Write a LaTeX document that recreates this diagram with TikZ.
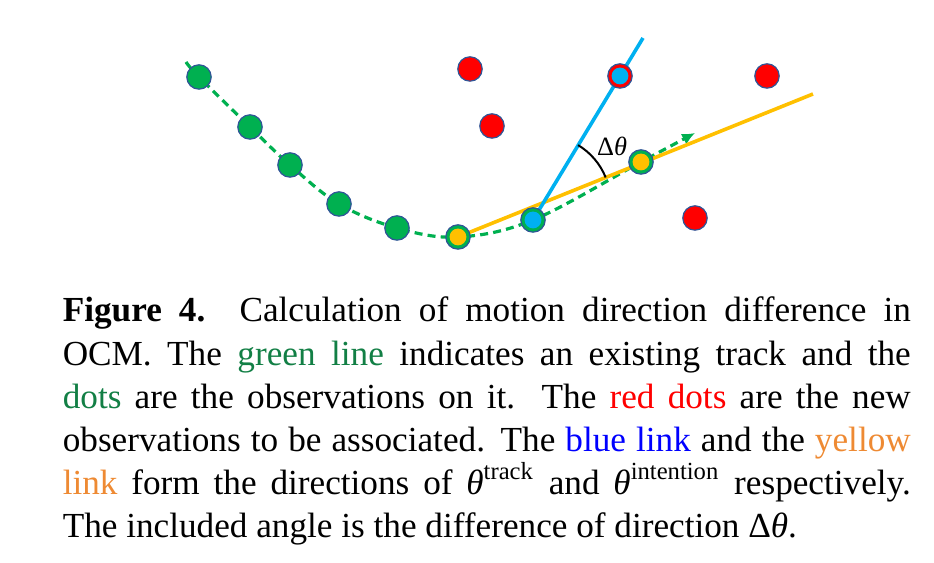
\documentclass[tikz,border=0pt]{standalone}
\usepackage{fontspec}
\setmainfont{Liberation Serif}
\usetikzlibrary{arrows.meta,backgrounds,intersections}
\definecolor{trackgreen}{HTML}{00B050}
\definecolor{obsred}{HTML}{FF0000}
\definecolor{linkblue}{HTML}{00B0F0}
\definecolor{linkyellow}{HTML}{FFC000}
\definecolor{dotedge}{HTML}{2F5597}
\definecolor{capgreen}{HTML}{127F45}
\definecolor{capblue}{HTML}{0000FF}
\definecolor{caporange}{HTML}{EE8A33}

\begin{document}
\begin{tikzpicture}[x=0.25pt,y=0.25pt,
	dot/.style={circle,draw=dotedge,line width=0.3pt,minimum size=6.1pt,inner sep=0pt},
	track dot/.style={dot,fill=trackgreen},
	obs dot/.style={dot,fill=obsred},
	ring dot/.style 2 args={dot,fill=#1,path picture={\fill[#2] (path picture bounding box.center) circle (2.1pt);}},
	link/.style={line width=0.9pt},
	track line/.style={trackgreen,line width=0.8pt,dash pattern=on 2pt off 1.3pt,-{Latex[length=3.2pt,width=3pt]}}]
	\useasboundingbox (0,0) rectangle (934,-563);
	% existing track
	\node[track dot] (g1) at (199,-77) {};
	\node[track dot] (g2) at (250,-127) {};
	\node[track dot] (g3) at (290,-165) {};
	\node[track dot] (g4) at (339,-204) {};
	\node[track dot] (g5) at (397,-228) {};
	\node[ring dot={trackgreen}{linkyellow}] (y1) at (458,-237) {};
	\node[ring dot={trackgreen}{linkblue}] (b1) at (533,-220) {};
	\node[ring dot={trackgreen}{linkyellow}] (y2) at (641,-162) {};
	\coordinate (tstart) at (186,-62);
	\coordinate (tend) at (695,-133);
	% new observations
	\node[obs dot] (r1) at (470,-69) {};
	\node[obs dot] (r2) at (492,-126) {};
	\node[obs dot] (r3) at (767,-76) {};
	\node[obs dot] (r4) at (695,-218) {};
	\node[ring dot={obsred}{linkblue}] (r5) at (620,-76) {};
	\coordinate (bend) at (643,-38);
	\coordinate (yend) at (813,-94);
	\begin{scope}[on background layer]
		\draw[track line] plot[smooth,tension=0.6] coordinates {(tstart) (g1.center) (g2.center) (g3.center) (g4.center) (g5.center) (y1.center) (b1.center) (y2.center) (tend)};
		\draw[link,linkyellow,name path global=ylink] (y1.center) -- (yend);
		\draw[link,linkblue,name path global=blink] (b1.center) -- (bend);
	\end{scope}
	\path[name intersections={of=ylink and blink,by=v}];
	\draw[line width=0.5pt] (v) ++(22:67) arc[start angle=22,end angle=59,radius=67];
	\node[font=\fontsize{6.6}{7}\selectfont] (dth) at (612,-146) {Δ\textit{θ}};
	% caption
	\node[anchor=base west,text width=212pt,align=justify,inner sep=0pt,font=\fontsize{8.8}{10.8}\selectfont] (cap) at (62,-322)
	{\textbf{Figure 4.}\ \ Calculation of motion direction difference in\linebreak
	OCM. The \textcolor{capgreen}{green line} indicates an existing track and the\linebreak
	\textcolor{capgreen}{dots} are the observations on it.\ \ The \textcolor{obsred}{red dots} are the new\linebreak
	observations to be associated. The \textcolor{capblue}{blue link} and the \textcolor{caporange}{yellow}\linebreak
	\textcolor{caporange}{link} form the directions of \textit{θ}\textsuperscript{track} and \textit{θ}\textsuperscript{intention} respectively.\linebreak
	The included angle is the difference of direction Δ\textit{θ}.};
\end{tikzpicture}
\end{document}
